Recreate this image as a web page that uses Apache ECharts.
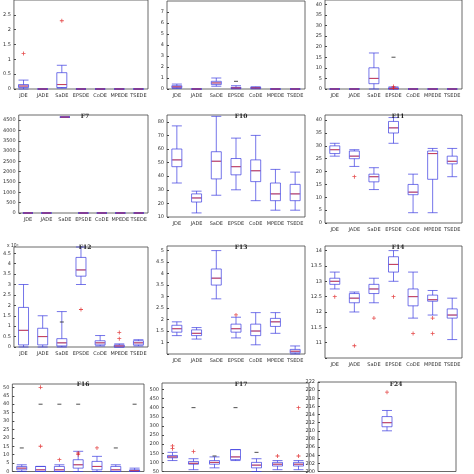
<!DOCTYPE html>
<html><head><meta charset="utf-8">
<script src="https://cdn.jsdelivr.net/npm/echarts@6/dist/echarts.min.js"></script>
<style>html,body{margin:0;padding:0;background:#fff}#c{width:474px;height:474px}</style>
</head><body><div id="c"></div>
<script>
const algos = ['JDE','JADE','SaDE','EPSDE','CoDE','MPEDE','TSEDE'];
// box data: [min, Q1, median, Q3, max]; null = none
const f1Box = [[0,0.05,0.1,0.15,0.3],[0,0,0,0,0],[0.03,0.05,0.15,0.55,0.8],[0,0,0,0,0],[0,0,0,0,0],[0,0,0,0,0],[0,0,0,0,0]];
const f1Out = [[0,1.2],[2,2.3]];
const f4Box = [[0.05,0.12,0.2,0.3,0.45],[0,0,0,0,0],[0.25,0.4,0.55,0.7,1.0],[0.02,0.05,0.1,0.15,0.3],[0.02,0.06,0.1,0.15,0.2],[0,0,0,0,0],[0,0,0,0,0]];
const f4Out = [];
const f4Dash = [[3,0.7]];
const f5Box = [[0,0,0,0,0],[0,0,0,0,0],[0,2.5,5,10,17],[0,0,0.2,0.6,1],[0,0,0,0,0],[0,0,0,0,0],[0,0,0,0,0]];
const f5Out = [[3,0.5],[3,1.2]];
const f5Dash = [[3,15]];
const f7Box = [[0,0,0,0,0],[0,0,0,0,0],[4650,4650,4650,4650,4650],[0,0,0,0,0],[0,0,0,0,0],[0,0,0,0,0],[0,0,0,0,0]];
const f10Box = [[35,47,52,60,77],[13,21,24,27,29],[26,38,51,58,84],[30,41,47,53,68],[22,36,44,52,70],[15,22,27,35,45],[15,22,27,34,43]];
const f11Box = [[26,27,28.5,30,31],[22,25,26,28,28.5],[13,16,18,19,21.5],[31,35,37,39.5,41],[4,11,12,15,19],[4,17,27,28,29],[18,23,24,26,29]];
const f11Out = [[1,18]];
const f12Box = [[0,0.1,0.8,1.9,3],[0,0.1,0.5,0.9,1.5],[0,0.05,0.2,0.4,1.7],[3,3.4,3.7,4.3,4.8],[0.05,0.1,0.2,0.3,0.55],[0,0,0.05,0.1,0.15],[0.05,0.1,0.2,0.3,0.35]];
const f12Out = [[3,1.8],[5,0.4],[5,0.7]];
const f12Dash = [[2,1.2]];
const f13Box = [[1.3,1.45,1.6,1.75,1.9],[1.15,1.3,1.4,1.55,1.65],[2.9,3.5,3.8,4.2,5],[1.2,1.45,1.6,1.8,2.1],[0.9,1.3,1.5,1.8,2.3],[1.4,1.7,1.9,2.05,2.3],[0.5,0.55,0.62,0.7,0.85]];
const f13Out = [[3,2.2]];
const f14Box = [[12.75,12.9,13,13.1,13.3],[12.0,12.3,12.45,12.6,12.65],[12.3,12.6,12.75,12.9,13.1],[13.0,13.3,13.55,13.8,14.0],[11.8,12.2,12.5,12.75,13.3],[11.9,12.35,12.4,12.55,12.7],[11.1,11.8,11.9,12.1,12.45]];
const f14Out = [[0,12.5],[1,10.9],[2,11.8],[3,12.5],[4,11.3],[5,11.8],[5,11.3]];
const f16Box = [[0,1,2,3,4],[0,0,1,3,3],[0,0,1,3,4],[0,2,4,7,12],[0,1,3,6,9],[0,0,1,3,4],[0,0,0.5,1,2]];
const f16Out = [[1,50],[1,15],[2,7],[3,11],[3,10],[4,14]];
const f16Dash = [[0,14],[1,40],[2,40],[3,40],[5,14],[6,40]];
const f17Box = [[110,125,130,138,155],[60,90,95,105,120],[70,90,100,110,130],[110,115,130,170,170],[50,70,85,100,120],[60,80,90,100,110],[60,80,90,100,110]];
const f17Out = [[0,175],[0,190],[1,160],[6,400],[5,135],[6,135]];
const f17Dash = [[1,400],[2,135],[3,400],[4,155]];
const f24Box = [null,null,null,[210,211,212,213.5,215],null,null,null];
const f24Out = [[3,219.5]];

const panels = [
 {t:'',   box:f1Box,out:f1Out,dash:[],x:12,y:-13,w:136,h:102,min:0,max:3,iv:0.5,cx:80,ty:-20},
 {t:'',   box:f4Box,out:f4Out,dash:f4Dash,x:167,y:1,w:138,h:88,min:0,max:8,iv:1,cx:236,ty:-20},
 {t:'',   box:f5Box,out:f5Out,dash:f5Dash,x:325,y:-6,w:137,h:95,min:0,max:42,iv:5,cx:393,ty:-20},
 {t:'F7', box:f7Box,out:[],dash:[],x:12,y:115,w:136,h:98,min:0,max:4750,iv:500,cx:80,ty:108},
 {t:'F10',box:f10Box,out:[],dash:[],x:167,y:115,w:138,h:102,min:10,max:85,iv:10,cx:236,ty:108},
 {t:'F11',box:f11Box,out:f11Out,dash:[],x:325,y:115,w:137,h:108,min:0,max:42,iv:5,cx:393,ty:108},
 {t:'F12',box:f12Box,out:f12Out,dash:f12Dash,x:12,y:247,w:136,h:100,min:0,max:4.8,iv:0.5,cx:80,ty:239,sci:true},
 {t:'F13',box:f13Box,out:f13Out,dash:[],x:167,y:246,w:138,h:108,min:0.5,max:5.2,iv:0.5,cx:236,ty:239,hideMin:true},
 {t:'F14',box:f14Box,out:f14Out,dash:[],x:325,y:246,w:137,h:112,min:10.5,max:14.15,iv:0.5,cx:393,ty:239,hideMin:true},
 {t:'F16',box:f16Box,out:f16Out,dash:f16Dash,x:11,y:384,w:133,h:99,min:0,max:52,iv:5,cx:78,ty:376,noX:true},
 {t:'F17',box:f17Box,out:f17Out,dash:f17Dash,x:162,y:383,w:147,h:93,min:50,max:535,iv:50,cx:236,ty:376,noX:true},
 {t:'F24',box:f24Box,out:f24Out,dash:[],x:318,y:382,w:138,h:95,min:200,max:222,iv:2,cx:391,ty:376,noX:true}
];

const grid=[],xAxis=[],yAxis=[],series=[],title=[];
const plus='path://M4,0H6V4H10V6H6V10H4V6H0V4H4Z';
panels.forEach((p,i)=>{
  grid.push({left:p.x,top:p.y,width:p.w,height:p.h,show:true,borderColor:'#444',borderWidth:0.8});
  xAxis.push({type:'category',gridIndex:i,data:algos,boundaryGap:true,
    axisLine:{show:false},axisTick:{show:false},
    axisLabel:{show:!p.noX,fontSize:5,color:'#333',interval:0,margin:4,fontFamily:'DejaVu Sans'}});
  yAxis.push({type:'value',gridIndex:i,min:p.min,max:p.max,interval:p.iv,splitLine:{show:false},
    axisLine:{show:false},axisTick:{show:true,length:2,inside:true,lineStyle:{color:'#444'}},
    axisLabel:{fontSize:5,color:'#333',margin:3,fontFamily:'DejaVu Sans',showMaxLabel:Number.isInteger(Math.round((p.max-p.min)/p.iv*1000)/1000)&&i>2,
      formatter:v=>{
        const k=(v-p.min)/p.iv;
        if(Math.abs(k-Math.round(k))>1e-6) return '';
        if(p.hideMin&&v===p.min) return '';
        if(i<3&&v>=p.max) return '';
        return (Math.round(v*100)/100).toString();}}});
  if(p.t) title.push({text:p.t,left:p.cx,top:p.ty,textAlign:'center',textStyle:{fontSize:6,fontWeight:'bold',color:'#222',fontFamily:'DejaVu Serif'}});
  if(p.sci) title.push({text:'x 10⁴',left:p.x-10,top:p.y-9,textStyle:{fontSize:5,fontWeight:'normal',color:'#333'}});
  series.push({type:'boxplot',xAxisIndex:i,yAxisIndex:i,boxWidth:[8,10],
    data:p.box.map(b=>b?b:'-'),
    itemStyle:{color:'#fff',borderColor:'#3a3adf',borderWidth:0.7},silent:true});
  series.push({type:'scatter',xAxisIndex:i,yAxisIndex:i,symbol:'rect',symbolSize:[9,1],
    data:p.box.map((b,k)=>b?[k,b[2]]:null).filter(Boolean),itemStyle:{color:'#e03030'},silent:true,z:5});
  series.push({type:'scatter',xAxisIndex:i,yAxisIndex:i,symbol:plus,symbolSize:4,
    data:p.out,itemStyle:{color:'#e02020'},silent:true,z:6});
  series.push({type:'scatter',xAxisIndex:i,yAxisIndex:i,symbol:'rect',symbolSize:[4,1],
    data:p.dash,itemStyle:{color:'#222'},silent:true,z:6});
});
const chart=echarts.init(document.getElementById('c'));
chart.setOption({animation:false,backgroundColor:'#fff',title,grid,xAxis,yAxis,series});
</script></body></html>
